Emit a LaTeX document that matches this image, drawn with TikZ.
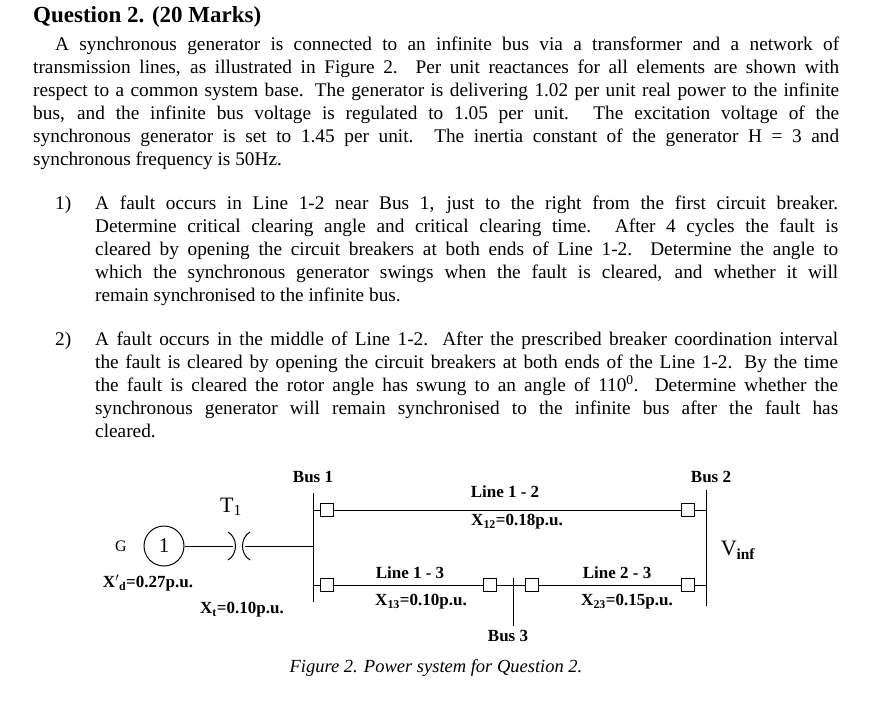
\documentclass[tikz,border=0pt]{standalone}
\usepackage{fontspec}
\setmainfont{Liberation Serif}
\begin{document}
\begin{tikzpicture}[x=1pt,y=-1pt,
  para/.style={anchor=north west,inner sep=0pt,align=justify,font=\fontsize{19.3}{23}\selectfont},
  lbl/.style={inner sep=0pt,font=\fontsize{17}{18}\selectfont\bfseries},
  cb/.style={draw,line width=1pt,fill=white,minimum size=13pt,inner sep=0pt},
  wire/.style={line width=1pt}]
\useasboundingbox (0,0) rectangle (874,701);
\node[anchor=west,inner sep=0pt,font=\fontsize{23}{26}\selectfont\bfseries] (title) at (33,17) {Question 2. (20 Marks)};
\node[para,text width=806pt] (p1) at (33,37) {\hspace*{22pt}A synchronous generator is connected to an infinite bus via a transformer and a network of\linebreak transmission lines, as illustrated in Figure 2. Per unit reactances for all elements are shown with\linebreak respect to a common system base. The generator is delivering 1.02 per unit real power to the infinite\linebreak bus, and the infinite bus voltage is regulated to 1.05 per unit. The excitation voltage of the\linebreak synchronous generator is set to 1.45 per unit. The inertia constant of the generator H = 3 and\linebreak synchronous frequency is 50Hz.};
\node[para,anchor=north west] (n1) at (55,196) {1)};
\node[para,text width=743pt] (p2) at (95,196) {\hangindent=8pt\hangafter=1 A fault occurs in Line 1-2 near Bus 1, just to the right from the first circuit breaker.\linebreak Determine critical clearing angle and critical clearing time. After 4 cycles the fault is\linebreak cleared by opening the circuit breakers at both ends of Line 1-2. Determine the angle to\linebreak which the synchronous generator swings when the fault is cleared, and whether it will\linebreak remain synchronised to the infinite bus.};
\node[para,anchor=north west] (n2) at (55,332) {2)};
\node[para,text width=743pt] (p3) at (95,332) {\hangindent=8pt\hangafter=1 A fault occurs in the middle of Line 1-2. After the prescribed breaker coordination interval\linebreak the fault is cleared by opening the circuit breakers at both ends of the Line 1-2. By the time\linebreak the fault is cleared the rotor angle has swung to an angle of 110\textsuperscript{0}. Determine whether the\linebreak synchronous generator will remain synchronised to the infinite bus after the fault has\linebreak cleared.};
% buses
\coordinate (b1t) at (313,493); \coordinate (b1b) at (313,602);
\coordinate (b2t) at (706,490); \coordinate (b2b) at (706,606);
\coordinate (b3t) at (513,578); \coordinate (b3b) at (513,626);
\draw[wire] (b1t) -- (b1b); \draw[wire] (b2t) -- (b2b); \draw[wire] (b3t) -- (b3b);
% generator
\node[draw,circle,line width=1pt,minimum size=40pt,inner sep=0pt,font=\fontsize{21}{22}\selectfont] (gen) at (164,546) {1};
\coordinate (t1) at (233,546); \coordinate (t2) at (245,546);
\draw[wire] (gen.east) -- (t1);
\draw[wire] (t2) -- (313,546);
\draw[wire] (228,532) .. controls (238,538) and (238,554) .. (228,560);
\draw[wire] (250,532) .. controls (240,538) and (240,554) .. (250,560);
% breakers
\node[cb] (c1) at (327,510) {}; \node[cb] (c2) at (688,510) {};
\node[cb] (c3) at (327,585) {}; \node[cb] (c4) at (490,585) {};
\node[cb] (c5) at (532,585) {}; \node[cb] (c6) at (688,585) {};
\draw[wire] (313,510) -- (c1) -- (c2) -- (706,510);
\draw[wire] (313,585) -- (c3) -- (c4) -- (c5) -- (c6) -- (706,585);
% labels
\node[lbl] (lb1) at (313,477) {Bus 1};
\node[lbl] (lb2) at (711,477) {Bus 2};
\node[lbl] (lb3) at (508,636) {Bus 3};
\node[lbl] (l12) at (505,492) {Line 1 - 2};
\node[lbl] (x12) at (517,522) {X\textsubscript{12}=0.18p.u.};
\node[lbl] (l13) at (410,573) {Line 1 - 3};
\node[lbl] (x13) at (421,602) {X\textsubscript{13}=0.10p.u.};
\node[lbl] (l23) at (617,573) {Line 2 - 3};
\node[lbl] (x23) at (627,602) {X\textsubscript{23}=0.15p.u.};
\node[inner sep=0pt,font=\fontsize{22}{22}\selectfont] (tt) at (231,507) {T\textsubscript{1}};
\node[inner sep=0pt,font=\fontsize{16}{16}\selectfont] (gl) at (121,546) {G};
\node[lbl] (xd) at (148,583) {X$'$\textsubscript{d}=0.27p.u.};
\node[lbl] (xt) at (242,610) {X\textsubscript{t}=0.10p.u.};
\node[inner sep=0pt,font=\fontsize{22}{22}\selectfont] (vinf) at (738,550) {V\textsubscript{\textbf{inf}}};
\node[inner sep=0pt,font=\fontsize{18.5}{20}\selectfont\itshape] (cap) at (436,668) {Figure 2. Power system for Question 2.};
\end{tikzpicture}
\end{document}
